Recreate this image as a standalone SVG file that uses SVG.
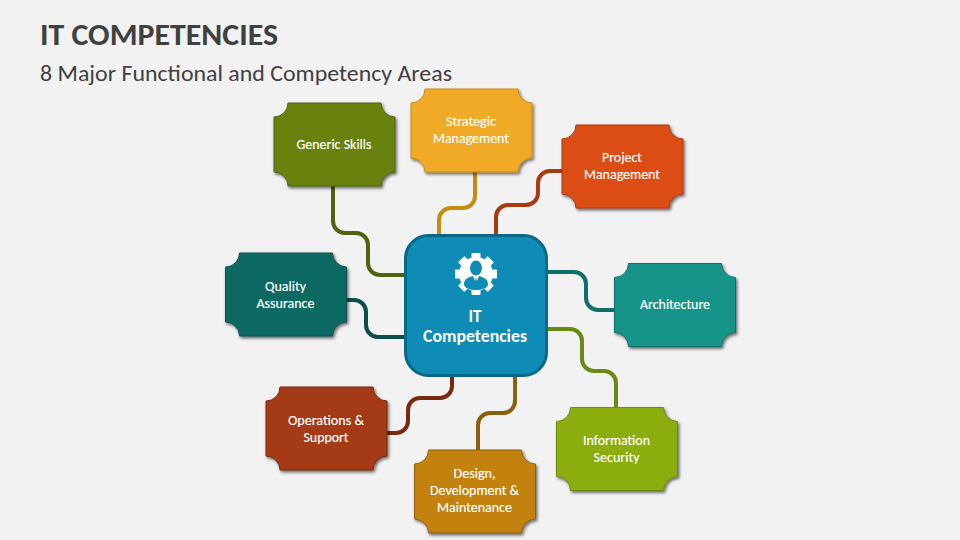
<svg xmlns="http://www.w3.org/2000/svg" width="960" height="540" viewBox="0 0 960 540">
<style>
text{font-family:"Carlito","Lato","Liberation Sans",sans-serif}
.t{fill:#fff;font-size:14px;text-anchor:middle;font-weight:400;stroke:#fff;stroke-width:.15px}
.b{font-size:18px;font-weight:700;stroke-width:0}
.c{fill:none;stroke-width:4;stroke-linejoin:round}
.n{stroke-width:1;filter:url(#s)}
</style>
<defs>
<filter id="s" x="-15%" y="-15%" width="130%" height="135%"><feDropShadow dx="1.500" dy="2" stdDeviation="1.800" flood-color="#000" flood-opacity=".55"/></filter>
<path id="p" d="M14 0H107A14 14 0 0 0 121 14V69A14 14 0 0 0 107 83H14A14 14 0 0 0 0 69V14A14 14 0 0 0 14 0Z"/>
</defs>
<rect width="960" height="540" fill="#f2f2f2"/>
<text x="40" y="45" font-size="30.500" font-weight="700" fill="#404040" textLength="238" lengthAdjust="spacingAndGlyphs">IT COMPETENCIES</text>
<text x="40" y="81" font-size="22.500" fill="#404040" textLength="412" lengthAdjust="spacingAndGlyphs">8 Major Functional and Competency Areas</text>
<g id="connectors">
<path class="c" stroke="#4f6310" d="M333 186V221A12 12 0 0 0 345 233H356A12 12 0 0 1 368 245V263A12 12 0 0 0 380 275H406"/>
<path class="c" stroke="#c58c14" d="M475 171V196A12 12 0 0 1 463 208H451A12 12 0 0 0 439 220V236"/>
<path class="c" stroke="#a83a12" d="M563 171H550A12 12 0 0 0 538 183V193A12 12 0 0 1 526 205H508A12 12 0 0 0 496 217V236"/>
<path class="c" stroke="#0e706a" d="M546 272H574A12 12 0 0 1 586 284V298A12 12 0 0 0 598 310H615"/>
<path class="c" stroke="#6d8a10" d="M546 329H570A12 12 0 0 1 582 341V359A12 12 0 0 0 594 371H604A12 12 0 0 1 616 383V408"/>
<path class="c" stroke="#0b4e4a" d="M346 300H354A12 12 0 0 1 366 312V325A12 12 0 0 0 378 337H406"/>
<path class="c" stroke="#78290f" d="M386 433H396A12 12 0 0 0 408 421V410A12 12 0 0 1 420 398H440A12 12 0 0 0 452 386V375"/>
<path class="c" stroke="#8b5f10" d="M515 375V401A12 12 0 0 1 503 413H490A12 12 0 0 0 478 425V451"/>
</g>
<g id="center">
<rect x="405.500" y="235.500" width="141" height="140" rx="23" fill="#0e8cb6" stroke="#0a6788" stroke-width="3"/>
<g fill="#fff">
<circle cx="476" cy="274" r="17"/>
<rect x="471.500" y="253" width="9" height="42" rx="1"/><rect x="455" y="269.500" width="42" height="9" rx="1"/><rect x="471.500" y="253" width="9" height="42" rx="1" transform="rotate(45 476 274)"/><rect x="471.500" y="253" width="9" height="42" rx="1" transform="rotate(-45 476 274)"/>
</g>
<ellipse cx="476" cy="268" rx="6" ry="7.500" fill="#0e8cb6"/>
<path d="M464 284C464 279 469 277 473 276L475 281L476 277L477 281L479 276C483 277 488 279 488 284C488 288 482 290 476 290C470 290 464 288 464 284Z" fill="#0e8cb6"/>
<text class="t b" x="475" y="322" textLength="13" lengthAdjust="spacingAndGlyphs">IT</text>
<text class="t b" x="475" y="342" textLength="104" lengthAdjust="spacingAndGlyphs">Competencies</text>
</g>
<g id="generic-skills"><use href="#p" x="274" y="103" class="n" fill="#68820f" stroke="#4f6310"/><text class="t" x="334" y="149" textLength="75" lengthAdjust="spacingAndGlyphs">Generic Skills</text></g>
<g id="strategic-management"><use href="#p" x="411" y="89" class="n" fill="#f0aa28" stroke="#c58c14"/><text class="t" x="471" y="126" textLength="50" lengthAdjust="spacingAndGlyphs">Strategic</text><text class="t" x="471" y="143" textLength="76" lengthAdjust="spacingAndGlyphs">Management</text></g>
<g id="project-management"><use href="#p" x="562" y="125" class="n" fill="#dc4e18" stroke="#a83a12"/><text class="t" x="622" y="162" textLength="40" lengthAdjust="spacingAndGlyphs">Project</text><text class="t" x="622" y="179" textLength="76" lengthAdjust="spacingAndGlyphs">Management</text></g>
<g id="architecture"><use href="#p" x="614.500" y="263.500" class="n" fill="#13948a" stroke="#0e706a"/><text class="t" x="675" y="309" textLength="70" lengthAdjust="spacingAndGlyphs">Architecture</text></g>
<g id="quality-assurance"><use href="#p" x="225.500" y="253" class="n" fill="#0f6b64" stroke="#0b4e4a"/><text class="t" x="285.500" y="291" textLength="41" lengthAdjust="spacingAndGlyphs">Quality</text><text class="t" x="285.500" y="308" textLength="58" lengthAdjust="spacingAndGlyphs">Assurance</text></g>
<g id="operations-support"><use href="#p" x="266" y="387" class="n" fill="#a43a12" stroke="#78290f"/><text class="t" x="326" y="425" textLength="76" lengthAdjust="spacingAndGlyphs">Operations &amp;</text><text class="t" x="326" y="442" textLength="45" lengthAdjust="spacingAndGlyphs">Support</text></g>
<g id="design-development-maintenance"><use href="#p" x="414.500" y="450" class="n" fill="#c2820f" stroke="#8b5f10"/><text class="t" x="474.500" y="478" textLength="42" lengthAdjust="spacingAndGlyphs">Design,</text><text class="t" x="474.500" y="495" textLength="89" lengthAdjust="spacingAndGlyphs">Development &amp;</text><text class="t" x="474.500" y="512" textLength="75" lengthAdjust="spacingAndGlyphs">Maintenance</text></g>
<g id="information-security"><use href="#p" x="556.500" y="407.500" class="n" fill="#8bad10" stroke="#6d8a10"/><text class="t" x="616.500" y="445" textLength="67" lengthAdjust="spacingAndGlyphs">Information</text><text class="t" x="616.500" y="462" textLength="46" lengthAdjust="spacingAndGlyphs">Security</text></g>
</svg>
